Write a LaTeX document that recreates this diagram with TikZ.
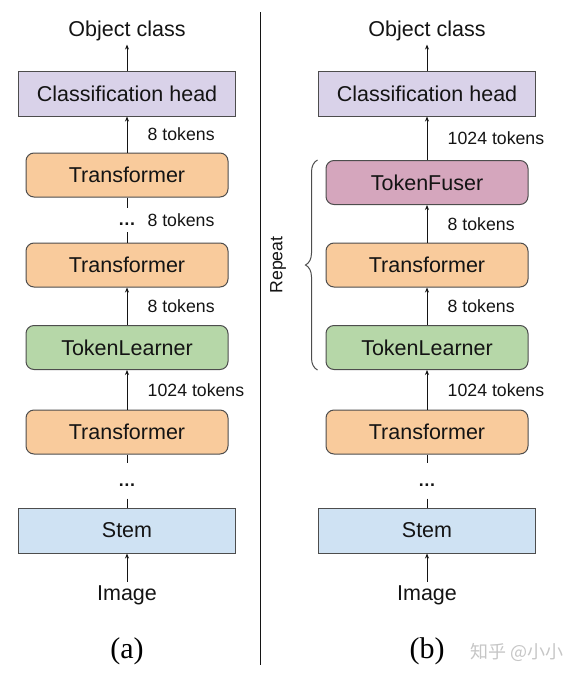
\documentclass[tikz,border=0pt]{standalone}
\usepackage{fontspec}
\setmainfont{Liberation Sans}
\newfontfamily\capfont{Liberation Serif}
\newfontfamily\cjk{Noto Sans CJK SC}
\usetikzlibrary{arrows.meta,decorations.pathreplacing}

\definecolor{headcol}{HTML}{D9D2E9}
\definecolor{trfcol}{HTML}{F9CB9C}
\definecolor{learncol}{HTML}{B6D7A8}
\definecolor{fusecol}{HTML}{D5A6BD}
\definecolor{stemcol}{HTML}{CFE2F3}
\definecolor{edgecol}{HTML}{4D4D4D}
\definecolor{inkcol}{HTML}{141414}

\tikzset{
  wide/.style={draw=edgecol, line width=1pt, minimum width=217pt, minimum height=45pt,
    inner sep=0pt, text=inkcol, font=\fontsize{21.5}{24}\selectfont},
  block/.style={wide, rounded corners=8pt, minimum width=202pt, minimum height=44pt},
  txt/.style={text=inkcol, font=\fontsize{21.5}{24}\selectfont},
  tok/.style={text=inkcol, font=\fontsize{17.7}{20}\selectfont, anchor=west, xshift=17pt},
  gap/.style={text=inkcol, font=\bfseries\fontsize{17.7}{20}\selectfont, inner sep=0pt,
    text height=11pt, text depth=0pt},
  arr/.style={-{Stealth[length=5pt,width=4pt]}, line width=0.8pt, inkcol},
  plain/.style={line width=0.8pt, inkcol},
}

\begin{document}
\begin{tikzpicture}[x=1pt,y=-1pt]
    \useasboundingbox (0,0) rectangle (579,683);

    % column (a)
    \node[txt] (objA) at (127,31) {Object class};
    \node[wide, fill=headcol] (headA) at (127,93.5) {Classification head};
    \node[block, fill=trfcol] (trA1) at (127,175) {Transformer};
    \node[block, fill=trfcol] (trA2) at (127,265) {Transformer};
    \node[block, fill=learncol] (learnA) at (127,347.5) {TokenLearner};
    \node[block, fill=trfcol] (trA3) at (127,432) {Transformer};
    \node[wide, fill=stemcol] (stemA) at (127,530.5) {Stem};
    \node[txt] (imgA) at (127,595) {Image};
    \node[font=\capfont\fontsize{30}{32}\selectfont] (capA) at (127,651) {(a)};

    \draw[arr] (headA) -- (objA);
    \draw[arr] (trA1) -- (headA) node[tok,midway] {8 tokens};
    \path (trA1) -- (trA2) node[gap,midway,minimum height=24pt] (dotA1) {\dots};
    \draw[plain] (trA1) -- (dotA1);
    \draw[plain] (dotA1) -- (trA2);
    \node[tok] at (dotA1) {8 tokens};
    \draw[arr] (learnA) -- (trA2) node[tok,midway] {8 tokens};
    \draw[arr] (trA3) -- (learnA) node[tok,midway] {1024 tokens};
    \path (trA3) -- (stemA) node[gap,midway,minimum height=35pt] (dotA2) {\dots};
    \draw[plain] (trA3) -- (dotA2);
    \draw[plain] (dotA2) -- (stemA);
    \draw[arr] (imgA) -- (stemA);

    % divider
    \draw[line width=1pt, inkcol] (260,12) -- (260,665);

    % column (b)
    \node[txt] (objB) at (427,31) {Object class};
    \node[wide, fill=headcol] (headB) at (427,93.5) {Classification head};
    \node[block, fill=fusecol] (fuseB) at (427,182.5) {TokenFuser};
    \node[block, fill=trfcol] (trB1) at (427,265) {Transformer};
    \node[block, fill=learncol] (learnB) at (427,347.5) {TokenLearner};
    \node[block, fill=trfcol] (trB2) at (427,432) {Transformer};
    \node[wide, fill=stemcol] (stemB) at (427,530.5) {Stem};
    \node[txt] (imgB) at (427,595) {Image};
    \node[font=\capfont\fontsize{30}{32}\selectfont] (capB) at (427,651) {(b)};

    \draw[arr] (headB) -- (objB);
    \draw[arr] (fuseB) -- (headB) node[tok,midway] {1024 tokens};
    \draw[arr] (trB1) -- (fuseB) node[tok,midway] {8 tokens};
    \draw[arr] (learnB) -- (trB1) node[tok,midway] {8 tokens};
    \draw[arr] (trB2) -- (learnB) node[tok,midway] {1024 tokens};
    \path (trB2) -- (stemB) node[gap,midway,minimum height=35pt] (dotB) {\dots};
    \draw[plain] (trB2) -- (dotB);
    \draw[plain] (dotB) -- (stemB);
    \draw[arr] (imgB) -- (stemB);

    % repeat brace
    \draw[line width=1pt, edgecol, decorate, decoration={brace, amplitude=12pt}]
        ([xshift=-8pt]learnB.south west) -- ([xshift=-8pt]fuseB.north west);
    \node[text=inkcol, font=\fontsize{17.7}{20}\selectfont, rotate=90] (repB) at (278,265) {Repeat};

    % watermark
    \node[text=gray!45, font=\cjk\fontsize{18}{20}\selectfont] (markB) at (517,652) {知乎 @小小};
\end{tikzpicture}
\end{document}
